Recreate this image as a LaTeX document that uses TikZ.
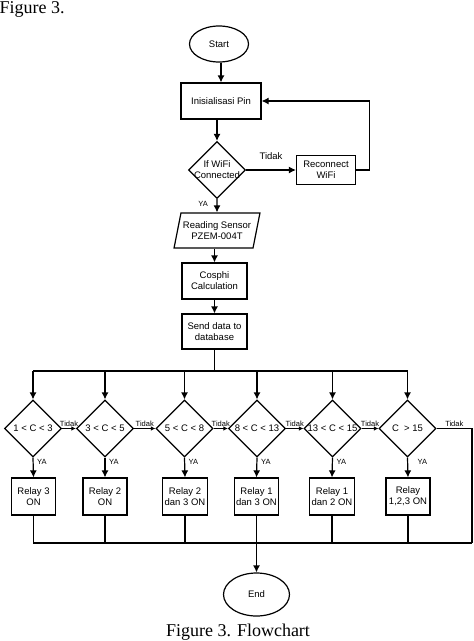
\documentclass[tikz,border=0pt]{standalone}
\usepackage{fontspec}
\setmainfont{Liberation Serif}
\setsansfont{Liberation Sans}
\usetikzlibrary{shapes.geometric,arrows.meta}
\tikzset{myterminal/.style={draw,ellipse,line width=1.2pt,inner sep=0pt},
myprocess/.style={draw,rectangle,line width=1.2pt,align=center,inner sep=2pt},
mydecision/.style={draw,diamond,aspect=1,minimum width=57pt,minimum height=57pt,inner sep=0pt,line width=1.2pt,align=center},
myio/.style={draw,trapezium,trapezium left angle=70,trapezium right angle=110,trapezium stretches=true,line width=1.2pt,align=center,inner sep=0pt},
myline/.style={line width=1.2pt},
myarrow/.style={line width=1.2pt,-{Latex[length=7pt,width=7pt]}},
mysmallarrow/.style={line width=1.2pt,-{Latex[length=4.5pt,width=4.5pt]}},
mylabel/.style={font=\sffamily\fontsize{7.5}{8}\selectfont,inner sep=1.5pt}}
\newcommand{\dtext}[1]{\makebox[0pt]{#1}}

\begin{document}
\begin{tikzpicture}[x=1pt,y=-1pt,font=\sffamily\fontsize{9.5}{11}\selectfont]
\useasboundingbox (0,0) rectangle (474,641);
\node[anchor=base west,inner sep=0pt,font=\rmfamily\fontsize{18}{20}\selectfont] (figtop) at (-0.5,13.5) {Figure 3.};
\node[anchor=base,inner sep=0pt,font=\rmfamily\fontsize{18}{20}\selectfont] (figcap) at (238,636.5) {Figure 3. Flowchart};
\node[myterminal,minimum width=59pt,minimum height=36pt] (start) at (219,44) {Start};
\node[myprocess,minimum width=80pt,minimum height=36pt] (init) at (221,101) {Inisialisasi Pin};
\node[mydecision] (wifi) at (217,170) {\dtext{If WiFi}\\\dtext{Connected}};
\node[myprocess,minimum width=59pt,minimum height=29pt] (reconnect) at (326,170) {Reconnect\\WiFi};
\node[myio,minimum width=86pt,minimum height=35pt] (sensor) at (217,230.5) {Reading Sensor\\PZEM-004T};
\node[myprocess,minimum width=65pt,minimum height=36pt] (cosphi) at (214.5,281) {Cosphi\\Calculation};
\node[myprocess,minimum width=65pt,minimum height=35pt] (send) at (214.5,331.5) {Send data to\\database};
\node[mydecision] (d1) at (33,428.5) {\dtext{1 < C < 3}};
\node[mydecision] (d2) at (105,428.5) {\dtext{3 < C < 5}};
\node[mydecision] (d3) at (184.5,428.5) {\dtext{5 < C < 8}};
\node[mydecision] (d4) at (257,428.5) {\dtext{8 < C < 13}};
\node[mydecision] (d5) at (332.5,428.5) {\dtext{13 < C < 15}};
\node[mydecision] (d6) at (407.5,428.5) {\dtext{C\ \ > 15}};
\node[myprocess,minimum width=44pt,minimum height=37pt] (r1) at (33.5,496.5) {Relay 3\\ON};
\node[myprocess,minimum width=44pt,minimum height=37pt] (r2) at (105,496.5) {Relay 2\\ON};
\node[myprocess,minimum width=44pt,minimum height=37pt] (r3) at (185,496.5) {Relay 2\\dan 3 ON};
\node[myprocess,minimum width=44pt,minimum height=37pt] (r4) at (256.5,496.5) {Relay 1\\dan 3 ON};
\node[myprocess,minimum width=44pt,minimum height=37pt] (r5) at (332,496.5) {Relay 1\\dan 2 ON};
\node[myprocess,minimum width=44pt,minimum height=37pt] (r6) at (408,496.5) {Relay\\1,2,3 ON};
\node[myterminal,minimum width=66pt,minimum height=43pt] (end) at (256.5,594.5) {End};
\coordinate (bus) at (214.5,371);
\coordinate (side) at (472,428.5);
\coordinate (low) at (472,543);
\draw[myarrow] (init.north |- start.south) -- (init.north);
\draw[myarrow] (init.south -| wifi.north) -- (wifi.north);
\draw[myarrow] (wifi.east) -- node[above=6pt]{Tidak} (reconnect.west);
\draw[myarrow] (reconnect.east) -- ++(13,0) |- (init.east);
\draw[myarrow] (wifi.south) -- node[mylabel,pos=0,anchor=north east,xshift=-7pt]{YA} (sensor.north);
\draw[myarrow] (sensor.south -| cosphi.north) -- (cosphi.north);
\draw[myarrow] (cosphi) -- (send);
\draw[myline] (send.south) -- (bus);
\draw[myline] (d1 |- bus) -- (d6 |- bus);
\draw[myarrow] (d1 |- bus) -- (d1.north);
\draw[myarrow] (d2 |- bus) -- (d2.north);
\draw[myarrow] (d3 |- bus) -- (d3.north);
\draw[myarrow] (d4 |- bus) -- (d4.north);
\draw[myarrow] (d5 |- bus) -- (d5.north);
\draw[myarrow] (d6 |- bus) -- (d6.north);
\draw[mysmallarrow] (d1.east) -- node[mylabel,above]{Tidak} (d2.west);
\draw[mysmallarrow] (d2.east) -- node[mylabel,above]{Tidak} (d3.west);
\draw[mysmallarrow] (d3.east) -- node[mylabel,above]{Tidak} (d4.west);
\draw[mysmallarrow] (d4.east) -- node[mylabel,above]{Tidak} (d5.west);
\draw[mysmallarrow] (d5.east) -- node[mylabel,above]{Tidak} (d6.west);
\draw[myline] (d6.east) -- node[mylabel,above]{Tidak} (side) -- (low);
\draw[myarrow] (d1.south) -- node[mylabel,pos=0,anchor=north west,xshift=2pt]{YA} (r1.north);
\draw[myarrow] (d2.south) -- node[mylabel,pos=0,anchor=north west,xshift=2pt]{YA} (r2.north);
\draw[myarrow] (d3.south) -- node[mylabel,pos=0,anchor=north west,xshift=2pt]{YA} (r3.north);
\draw[myarrow] (d4.south) -- node[mylabel,pos=0,anchor=north west,xshift=2pt]{YA} (r4.north);
\draw[myarrow] (d5.south) -- node[mylabel,pos=0,anchor=north west,xshift=2pt]{YA} (r5.north);
\draw[myarrow] (d6.south) -- node[mylabel,pos=0,anchor=north west,xshift=8pt]{YA} (r6.north);
\draw[myline] (r1.south) -- (r1.south |- low) -- (low);
\draw[myline] (r2.south) -- (r2.south |- low);
\draw[myline] (r3.south) -- (r3.south |- low);
\draw[myline] (r5.south) -- (r5.south |- low);
\draw[myline] (r6.south) -- (r6.south |- low);
\draw[myarrow] (r4.south) -- (end.north);
\end{tikzpicture}
\end{document}
